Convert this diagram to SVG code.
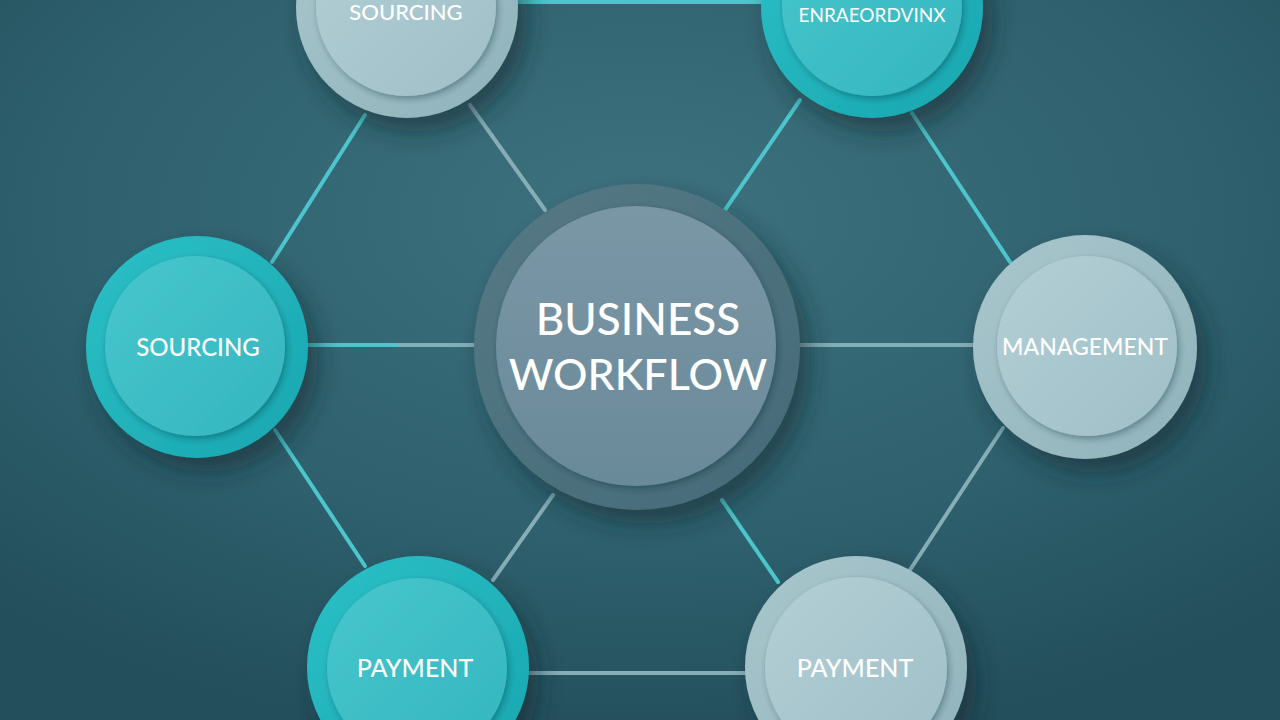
<svg xmlns="http://www.w3.org/2000/svg" width="1280" height="720" viewBox="0 0 1280 720">
<defs>
<radialGradient id="bg" cx="0.5" cy="0.3" r="0.75">
<stop offset="0" stop-color="#3d727e"/>
<stop offset="0.6" stop-color="#2e606d"/>
<stop offset="1" stop-color="#234e5b"/>
</radialGradient>
<linearGradient id="tealOuter" x1="0" y1="0" x2="1" y2="1">
<stop offset="0" stop-color="#2cc0c6"/>
<stop offset="1" stop-color="#18a6b0"/>
</linearGradient>
<linearGradient id="tealInner" x1="0" y1="0" x2="1" y2="1">
<stop offset="0" stop-color="#48c6cc"/>
<stop offset="1" stop-color="#34b6c0"/>
</linearGradient>
<linearGradient id="greyOuter" x1="0" y1="0" x2="1" y2="1">
<stop offset="0" stop-color="#a9c7cd"/>
<stop offset="1" stop-color="#8fb2ba"/>
</linearGradient>
<linearGradient id="greyInner" x1="0" y1="0" x2="1" y2="1">
<stop offset="0" stop-color="#b3cfd5"/>
<stop offset="1" stop-color="#9fbfc7"/>
</linearGradient>
<linearGradient id="centerOuter" x1="0" y1="0" x2="1" y2="1">
<stop offset="0" stop-color="#557985"/>
<stop offset="1" stop-color="#456a77"/>
</linearGradient>
<linearGradient id="centerInner" x1="0" y1="0" x2="0" y2="1">
<stop offset="0" stop-color="#7a97a6"/>
<stop offset="1" stop-color="#6a8a99"/>
</linearGradient>
<filter id="shadow" x="-30%" y="-30%" width="170%" height="170%">
<feDropShadow dx="10" dy="14" stdDeviation="12" flood-color="#0d2a33" flood-opacity="0.55"/>
</filter>
<filter id="innerShadow" x="-20%" y="-20%" width="140%" height="140%">
<feDropShadow dx="2" dy="3" stdDeviation="3" flood-color="#0d2a33" flood-opacity="0.35"/>
</filter>
</defs>
<style>
.lbl{font-family:Lato,"Open Sans","Liberation Sans",sans-serif;fill:#ffffff;text-anchor:middle;font-weight:600;}
.teal{stroke:#4cc6cc;stroke-width:4;stroke-linecap:round;}
.grey{stroke:#86aeb7;stroke-width:4;stroke-linecap:round;}
</style>
<rect width="1280" height="720" fill="url(#bg)"/>
<g id="connectors" fill="none">
<line class="teal" x1="518" y1="2" x2="761" y2="2"/>
<line class="teal" x1="365" y1="115" x2="272" y2="262"/>
<line class="grey" x1="470" y1="105" x2="545" y2="210"/>
<line class="teal" x1="800" y1="100" x2="725" y2="210"/>
<line class="teal" x1="912" y1="113" x2="1010" y2="262"/>
<line class="teal" x1="308" y1="345" x2="400" y2="345"/>
<line class="grey" x1="400" y1="345" x2="474" y2="345"/>
<line class="grey" x1="800" y1="345" x2="973" y2="345"/>
<line class="teal" x1="275" y1="430" x2="365" y2="566"/>
<line class="grey" x1="553" y1="495" x2="493" y2="580"/>
<line class="teal" x1="722" y1="500" x2="778" y2="582"/>
<line class="grey" x1="1003" y1="428" x2="910" y2="570"/>
<line class="grey" x1="530" y1="673" x2="745" y2="673"/>
</g>
<g id="node-center">
<circle cx="637" cy="347" r="163" fill="url(#centerOuter)" filter="url(#shadow)"/>
<circle cx="636" cy="346" r="140" fill="url(#centerInner)" filter="url(#innerShadow)"/>
<text class="lbl" x="638" y="335" font-size="44" style="font-weight:500">BUSINESS</text>
<text class="lbl" x="638" y="390" font-size="43" style="font-weight:500">WORKFLOW</text>
</g>
<g id="node-left">
<circle cx="197" cy="347" r="111" fill="url(#tealOuter)" filter="url(#shadow)"/>
<circle cx="195" cy="346" r="90" fill="url(#tealInner)" filter="url(#innerShadow)"/>
<text class="lbl" x="198" y="356" font-size="24" style="font-weight:500">SOURCING</text>
</g>
<g id="node-topleft">
<circle cx="407" cy="7" r="111" fill="url(#greyOuter)" filter="url(#shadow)"/>
<circle cx="406" cy="6" r="90" fill="url(#greyInner)" filter="url(#innerShadow)"/>
<text class="lbl" x="406" y="20" font-size="22" style="font-weight:500">SOURCING</text>
</g>
<g id="node-topright">
<circle cx="872" cy="7" r="111" fill="url(#tealOuter)" filter="url(#shadow)"/>
<circle cx="872" cy="6" r="90" fill="url(#tealInner)" filter="url(#innerShadow)"/>
<text class="lbl" x="872" y="22" font-size="19" style="font-weight:400">ENRAEORDVINX</text>
</g>
<g id="node-right">
<circle cx="1085" cy="347" r="112" fill="url(#greyOuter)" filter="url(#shadow)"/>
<circle cx="1087" cy="346" r="90" fill="url(#greyInner)" filter="url(#innerShadow)"/>
<text class="lbl" x="1085" y="355" font-size="23" style="font-weight:500">MANAGEMENT</text>
</g>
<g id="node-bottomleft">
<circle cx="418" cy="667" r="111" fill="url(#tealOuter)" filter="url(#shadow)"/>
<circle cx="417" cy="668" r="90" fill="url(#tealInner)" filter="url(#innerShadow)"/>
<text class="lbl" x="415" y="677" font-size="25" style="font-weight:500">PAYMENT</text>
</g>
<g id="node-bottomright">
<circle cx="856" cy="667" r="111" fill="url(#greyOuter)" filter="url(#shadow)"/>
<circle cx="856" cy="668" r="91" fill="url(#greyInner)" filter="url(#innerShadow)"/>
<text class="lbl" x="855" y="677" font-size="25" style="font-weight:500">PAYMENT</text>
</g>
</svg>
